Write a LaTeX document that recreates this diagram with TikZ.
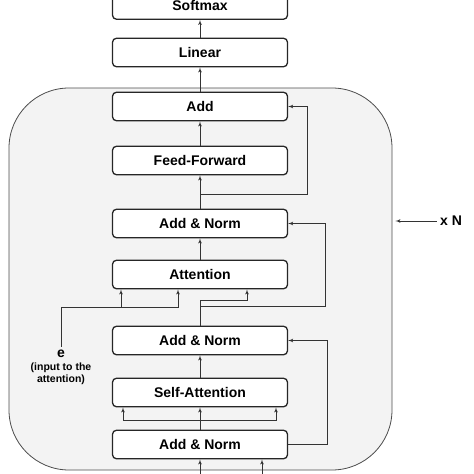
\documentclass[tikz,border=0pt]{standalone}
\usepackage{fontspec}
\setmainfont{Liberation Sans}
\usetikzlibrary{shapes,arrows}
\definecolor{stackgray}{HTML}{F3F3F3}
\definecolor{linegray}{HTML}{333333}
\begin{document}
\begin{tikzpicture}[auto, node distance=54pt,>=latex']
	%define block styles
	\tikzset{
		layer/.style={rectangle, rounded corners=4pt, minimum width=175pt, minimum height=28.5pt, text centered, draw=black!85, line width=1.3pt, fill=white, font=\fontsize{14}{16}\selectfont\bfseries},
		stack/.style={rectangle, rounded corners=60pt, minimum width=383pt, minimum height=382pt, draw=black!70, line width=0.8pt, fill=stackgray},
		tag/.style={font=\fontsize{14}{16}\selectfont\bfseries},
		note/.style={font=\fontsize{10.5}{12}\selectfont\bfseries, align=center},
		arrow/.style={->, line width=0.7pt, draw=linegray},
		wire/.style={line width=0.7pt, draw=linegray},
	}
	\useasboundingbox (0,0) rectangle (474pt,-474pt);
	%repeated block
	\node[stack] (block) at (200.5pt,-279pt) {};
	%define nodes
	\node[layer] (linear) at (200pt,-52.5pt) {Linear};
	\node[layer, above of=linear, yshift=-6.5pt] (softmax) {Softmax};
	\node[layer, below of=linear] (add) {Add};
	\node[layer, below of=add] (ff) {Feed-Forward};
	\node[layer, below of=ff, yshift=-9pt] (norm3) {Add \& Norm};
	\node[layer, below of=norm3, yshift=3pt] (att) {Attention};
	\node[layer, below of=att, yshift=-12pt] (norm2) {Add \& Norm};
	\node[layer, below of=norm2, yshift=2pt] (selfatt) {Self-Attention};
	\node[layer, below of=selfatt, yshift=2pt] (norm1) {Add \& Norm};
	\node[tag] (e) at (61pt,-354pt) {e};
	\node[note, below of=e, node distance=20pt] (enote) {(input to the\\attention)};
	\node[tag] (times) at (451pt,-221pt) {x N};
	%define arrows
	\draw[arrow] (linear) -- (softmax);
	\draw[arrow] (add) -- (linear);
	\draw[arrow] (ff) -- (add);
	\draw[arrow] (norm3) -- (ff);
	\coordinate (skip3) at ([yshift=14pt]norm3.north);
	\draw[arrow] (skip3) -- ++(107pt,0) |- (add.east);
	\draw[arrow] (att) -- (norm3);
	\draw[arrow] (norm2.north) -- ++(0,25pt) -| ([xshift=47pt]att.south);
	\coordinate (skip2) at ([yshift=19pt]norm2.north);
	\draw[arrow] (skip2) -- ++(125pt,0) |- (norm3.east);
	\coordinate (ebend) at ([yshift=39pt]e.north);
	\draw[arrow] (e.north) -- (ebend) -| ([xshift=-22pt]att.south);
	\draw[arrow] ([xshift=-79pt]att.south |- ebend) -- ([xshift=-79pt]att.south);
	\draw[arrow] (selfatt) -- (norm2);
	\draw[arrow] (norm1.east) -- ++(39pt,0) |- (norm2.east);
	\draw[arrow] (norm1) -- (selfatt);
	\coordinate (split) at ([yshift=9pt]norm1.north);
	\draw[arrow] (split) -| ([xshift=-77pt]selfatt.south);
	\draw[arrow] (split) -| ([xshift=76pt]selfatt.south);
	\draw[arrow] ([yshift=-20pt]norm1.south) -- (norm1.south);
	\draw[arrow] ([xshift=62pt,yshift=-20pt]norm1.south) -- ([xshift=62pt]norm1.south);
	\draw[arrow] (times.west) -- ([xshift=3pt]block.east |- times.west);
\end{tikzpicture}
\end{document}
